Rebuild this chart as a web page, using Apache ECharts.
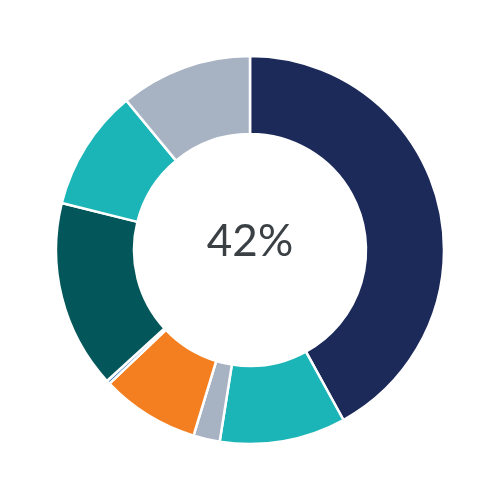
<!DOCTYPE html>
<html><head><meta charset="utf-8">
<script src="https://cdn.jsdelivr.net/npm/echarts@6/dist/echarts.min.js"></script>
<style>html,body{margin:0;padding:0;background:#fff}#c{width:500px;height:500px}</style>
</head><body><div id="c"></div>
<script>
const categories = ['A','B','C','D','E','F','G','H'];
const values = [42, 10.5, 2.2, 8.2, 0.3, 15.7, 10.1, 11.0];
const colors = ['#1c2a5a','#1bb5b8','#a7b3c3','#f47f21','#3b7dc4','#03575a','#1bb5b8','#a7b3c3'];
const centerLabel = '42%';
const chart = echarts.init(document.getElementById('c'));
chart.setOption({
  animation: false,
  graphic: [{type:'text', left:'center', top:220, style:{text:centerLabel, font:'400 44px Lato', fill:'#3b4045'}}],
  series: [{
    type: 'pie', radius: [116, 194], center: [250, 250], startAngle: 90, clockwise: true,
    label: {show:false}, labelLine:{show:false}, silent: true,
    itemStyle: {borderColor:'#fff', borderWidth:2.5},
    data: categories.map((c,i)=>({name:c, value:values[i], itemStyle:{color:colors[i]}}))
  }]
});
</script></body></html>
